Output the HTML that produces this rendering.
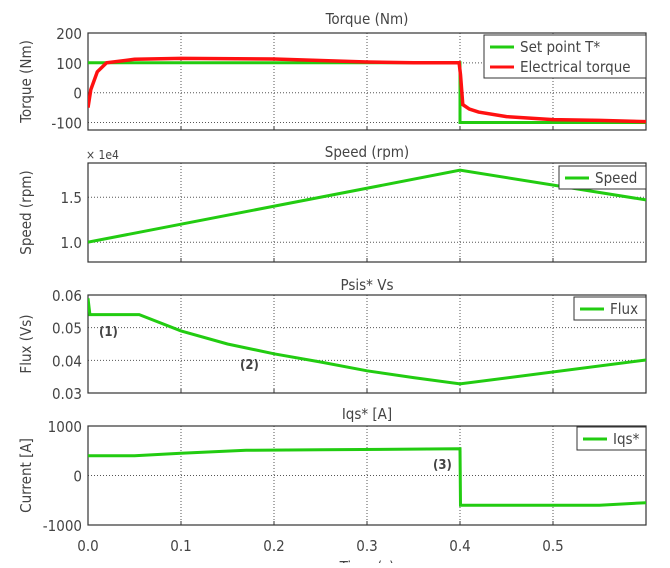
<!DOCTYPE html>
<html><head><meta charset="utf-8"><style>
body{margin:0;background:#fff;width:670px;height:563px;overflow:hidden}
svg text{font-family:"DejaVu Sans Condensed","Liberation Sans",sans-serif;fill:#444}
</style></head><body>
<svg id="c" width="670" height="563"></svg>
<script>
const xTicks=[0,0.1,0.2,0.3,0.4,0.5];
const xTickLabels=["0.0","0.1","0.2","0.3","0.4","0.5"];
const torqueT=[0,0.003,0.01,0.02,0.05,0.1,0.2,0.25,0.3,0.35,0.399,0.4005,0.403,0.41,0.42,0.45,0.5,0.55,0.6];
const torqueE=[-50,10,70,100,112,115,113,108,103,100,100,60,-40,-55,-65,-80,-90,-93,-97];
const setT=[0,0.4,0.4,0.6];
const setV=[100,100,-100,-100];
const speedT=[0,0.05,0.4,0.6];
const speedV=[1.0,1.1,1.8,1.47];
const fluxT=[0,0.002,0.055,0.1,0.15,0.2,0.25,0.3,0.35,0.4,0.6];
const fluxV=[0.059,0.054,0.054,0.049,0.045,0.042,0.0395,0.0368,0.0347,0.0328,0.0401];
const iqsT=[0,0.05,0.1,0.17,0.25,0.399,0.4,0.4005,0.55,0.6];
const iqsV=[400,400,450,510,520,540,540,-600,-600,-550];
const panels=[
 {name:"torque",title:"Torque (Nm)",ty:19,yl:"Torque (Nm)",top:33,bot:130,dmin:-125,dmax:200,ticks:[200,100,0,-100],labels:["200","100","0","-100"]},
 {name:"speed",title:"Speed (rpm)",ty:152,yl:"Speed (rpm)",top:163,bot:262,dmin:0.78,dmax:1.88,ticks:[1.5,1.0],labels:["1.5","1.0"]},
 {name:"flux",title:"Psis* Vs",ty:285,yl:"Flux (Vs)",top:295,bot:393,dmin:0.03,dmax:0.06,ticks:[0.06,0.05,0.04,0.03],labels:["0.06","0.05","0.04","0.03"]},
 {name:"current",title:"Iqs* [A]",ty:414,yl:"Current [A]",top:426,bot:525,dmin:-1000,dmax:1000,ticks:[1000,0,-1000],labels:["1000","0","-1000"]}
];
const svg=document.getElementById('c');const NS="http://www.w3.org/2000/svg";
const X0=88,X1=646;const xs=t=>X0+t/0.6*(X1-X0);
function mk(tag,at,txt,parent){const e=document.createElementNS(NS,tag);for(const k in at)e.setAttribute(k,at[k]);if(txt!=null)e.textContent=txt;(parent||svg).appendChild(e);return e;}
function line(p,T,V,color,w,name){const ys=v=>p.bot-(v-p.dmin)/(p.dmax-p.dmin)*(p.bot-p.top);
 const d=T.map((t,i)=>(i?'L':'M')+xs(t).toFixed(1)+' '+ys(V[i]).toFixed(1)).join('');
 const e=mk('path',{d:d,fill:'none',stroke:color,'stroke-width':w,'clip-path':'url(#cl-'+p.name+')'});
 
 }
const defs=mk('defs',{});
panels.forEach(p=>{
 const ys=v=>p.bot-(v-p.dmin)/(p.dmax-p.dmin)*(p.bot-p.top);
 const cp=mk('clipPath',{id:'cl-'+p.name},null,defs);mk('rect',{x:X0,y:p.top,width:X1-X0,height:p.bot-p.top},null,cp);
 const t=mk('text',{x:367,y:p.ty+5,'text-anchor':'middle','font-size':15},p.title);
 
 const yl=mk('text',{transform:`translate(31,${(p.top+p.bot)/2}) rotate(-90)`,'text-anchor':'middle','font-size':15},p.yl);
 
 xTicks.forEach(v=>{if(v>0)mk('line',{x1:xs(v),x2:xs(v),y1:p.top,y2:p.bot,stroke:'#555','stroke-dasharray':'1,2','stroke-width':1});
  mk('line',{x1:xs(v),x2:xs(v),y1:p.bot,y2:p.bot-4,stroke:'#333'});});
 p.ticks.forEach((v,i)=>{const y=ys(v);mk('line',{x1:X0,x2:X1,y1:y,y2:y,stroke:'#555','stroke-dasharray':'1,2','stroke-width':1});
  const tl=mk('text',{x:X0-6,y:y+6,'text-anchor':'end','font-size':15},p.labels[i]);
  });
 const r=mk('rect',{x:X0,y:p.top,width:X1-X0,height:p.bot-p.top,fill:'none',stroke:'#333','stroke-width':1.2});
 
});
const [P1,P2,P3,P4]=panels;
line(P1,setT,setV,'#22cc11',3,'set-point-line');
line(P1,torqueT,torqueE,'#ff1111',3.5,'electrical-torque-line');
line(P2,speedT,speedV,'#22cc11',3,'speed-line');
line(P3,fluxT,fluxV,'#22cc11',3,'flux-line');
line(P4,iqsT,iqsV,'#22cc11',3,'iqs-line');
mk('text',{x:86,y:159,'font-size':12},'× 1e4');
xTicks.forEach((v,i)=>{const e=mk('text',{x:xs(v),y:551,'text-anchor':'middle','font-size':15},xTickLabels[i]);
 });
mk('text',{x:367,y:572,'text-anchor':'middle','font-size':15},'Time (s)');
function legend(x,y,w,items,name){const g=mk('g',{});
 mk('rect',{x:x,y:y,width:w,height:items.length*20+3,fill:'#fff',stroke:'#333'},null,g);
 items.forEach((it,i)=>{const cy=y+12+i*20;mk('line',{x1:x+6,x2:x+30,y1:cy,y2:cy,stroke:it[1],'stroke-width':3},null,g);
  mk('text',{x:x+36,y:cy+5,'font-size':15},it[0],g);});}
legend(484,35,162,[['Set point T*','#22cc11'],['Electrical torque','#ff1111']],'torque-legend');
legend(559,166,87,[['Speed','#22cc11']],'speed-legend');
legend(574,297,72,[['Flux','#22cc11']],'flux-legend');
legend(577,427,69,[['Iqs*','#22cc11']],'iqs-legend');
[['(1)',99,336],['(2)',240,369],['(3)',433,469]].forEach(a=>{const e=mk('text',{x:a[1],y:a[2],'font-size':13,'font-weight':'bold',fill:'#222'},a[0]);
 });
</script></body></html>
